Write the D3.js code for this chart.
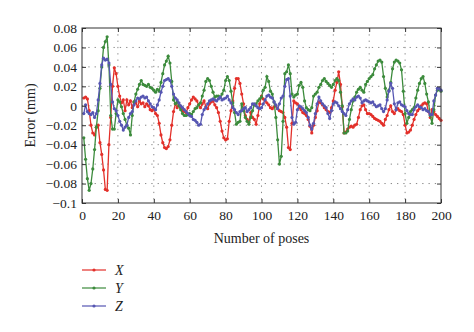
<!DOCTYPE html>
<html>
<head>
<meta charset="utf-8">
<script src="https://cdn.jsdelivr.net/npm/d3@7"></script>
<style>
  body { margin: 0; background: #fff; }
  svg text { font-family: "Liberation Serif", "DejaVu Serif", serif; fill: #222; }
</style>
</head>
<body>
<svg id="chart" width="474" height="332"></svg>
<script>
// Pose error per axis (mm), poses 1..200
const seriesNames = ["X", "Y", "Z"];
const seriesColors = ["#e3302a", "#3c8b3c", "#5656b2"];

const errX = [
  0.008, 0.009, 0.007, -0.005, -0.02, -0.028, -0.03, -0.022, -0.02, -0.038,
  -0.05, -0.066, -0.086, -0.087, -0.04, -0.012, 0.02, 0.039, 0.033, 0.02,
  0.01, 0.003, 0.006, -0.005, 0.006, 0.001, 0.005, -0.002, 0.004, 0.003,
  -0.001, 0.005, 0.002, 0.003, -0.001, 0.002, 0.0, -0.004, -0.005, -0.003,
  -0.008, -0.01, -0.018, -0.03, -0.038, -0.043, -0.044, -0.042, -0.035, -0.02,
  -0.006, 0.002, -0.002, 0.001, -0.002, -0.005, -0.006, -0.007, -0.002, 0.002,
  0.006, 0.009, 0.007, 0.005, 0.001, -0.002, 0.002, 0.005, -0.001, -0.003,
  0.002, 0.004, 0.005, 0.001, -0.002, -0.007, -0.016, -0.026, -0.033, -0.035,
  -0.034, -0.016, -0.005, 0.005, 0.018, 0.028, 0.028, 0.023, 0.012, 0.002,
  -0.01, -0.014, -0.017, -0.007, -0.012, -0.014, -0.019, -0.01, 0.002, 0.01,
  0.007, 0.005, 0.003, 0.001, -0.002, -0.003, -0.001, 0.0, -0.003, -0.005,
  -0.006, -0.007, -0.012, -0.022, -0.043, -0.045, -0.018, 0.005, 0.003, 0.002,
  -0.002, -0.004, -0.007, -0.008, -0.01, -0.014, -0.021, -0.028, -0.02, -0.012,
  -0.005, 0.004, 0.003, 0.001, -0.002, -0.004, -0.006, -0.007, -0.002, 0.005,
  0.016, 0.024, 0.035, 0.022, -0.001, -0.028, -0.027, -0.024, -0.022, -0.021,
  -0.022, -0.02, -0.019, -0.012, -0.004, 0.0, 0.001, -0.004, -0.008, -0.008,
  -0.009, -0.011, -0.013, -0.014, -0.015, -0.016, -0.018, -0.02, -0.014, -0.01,
  -0.004, 0.0, -0.006, -0.008, -0.004, -0.003, -0.005, -0.006, -0.009, -0.02,
  -0.028, -0.027, -0.025, -0.02, -0.014, -0.009, -0.005, -0.003, 0.0, 0.002,
  0.003, 0.002, -0.006, -0.012, -0.004, -0.006, -0.009, -0.011, -0.013, -0.015
];

const errY = [
  -0.033, -0.055, -0.075, -0.087, -0.08, -0.065, -0.045, -0.022, -0.005, 0.018,
  0.04, 0.06, 0.066, 0.071, 0.042, -0.01, -0.024, -0.024, -0.008, 0.006,
  0.004, -0.001, -0.008, -0.014, -0.02, -0.023, -0.03, -0.01, 0.004, 0.012,
  0.017, 0.022, 0.026, 0.022, 0.021, 0.02, 0.022, 0.019, 0.018, 0.016,
  0.014, 0.017, 0.015, 0.024, 0.033, 0.042, 0.046, 0.051, 0.044, 0.025,
  0.006, 0.002, 0.004, 0.0, -0.004, -0.008, -0.01, -0.01, -0.009, -0.008,
  -0.009, -0.006, -0.003, -0.002, 0.001, 0.003, 0.01, 0.016, 0.025, 0.028,
  0.026, 0.02, 0.014, 0.009, 0.01, 0.01, 0.009, 0.012, 0.016, 0.026,
  0.03, 0.026, 0.015, 0.003, -0.007, -0.019, -0.017, -0.016, 0.002, -0.005,
  -0.012, -0.016, -0.019, -0.012, -0.005, 0.001, 0.002, 0.005, 0.007, 0.009,
  0.016, 0.019, 0.03, 0.025, 0.015, 0.012, 0.004, -0.012, -0.035, -0.06,
  -0.052, -0.016, 0.033, 0.035, 0.042, 0.033, 0.012, 0.009, 0.011, 0.012,
  0.021, 0.024, 0.019, 0.005, -0.002, -0.004, -0.005, -0.002, 0.01, 0.012,
  0.014, 0.019, 0.022, 0.026, 0.028, 0.025, 0.023, 0.021, 0.019, 0.022,
  0.026, 0.028, 0.026, 0.014, 0.0, -0.028, -0.028, -0.026, -0.014, -0.004,
  0.005, 0.009, 0.014, 0.017, 0.019, 0.016, 0.014, 0.022, 0.025, 0.028,
  0.03, 0.032, 0.038, 0.042, 0.046, 0.047, 0.045, 0.03, 0.018, 0.009,
  0.016, 0.024, 0.038, 0.045, 0.047, 0.046, 0.044, 0.037, 0.015, -0.008,
  -0.018, -0.012, -0.006, -0.004, -0.002, 0.008, 0.016, 0.023, 0.028, 0.03,
  0.023, 0.012, 0.004, -0.01, -0.018, -0.004, 0.011, 0.016, 0.017, 0.015
];

const errZ = [
  -0.008, 0.001, -0.006, -0.008, -0.009, -0.007, -0.012, -0.008, 0.006, 0.023,
  0.042, 0.049, 0.047, 0.048, 0.044, 0.022, 0.004, -0.003, -0.005, -0.01,
  -0.016, -0.02, -0.025, -0.022, -0.02, -0.012, -0.008, -0.006, 0.001, 0.005,
  0.008, 0.007, 0.009, 0.01, 0.008, 0.009, 0.005, 0.002, -0.001, -0.002,
  -0.004, 0.001, 0.006, 0.014, 0.02, 0.026, 0.027, 0.028, 0.026, 0.02,
  0.012, 0.008, 0.006, 0.003, 0.0, -0.002, -0.004, -0.006, -0.008, -0.01,
  -0.011, -0.014, -0.015, -0.017, -0.02, -0.019, -0.009, -0.004, -0.002, 0.002,
  0.005, 0.006, 0.007, 0.006, 0.005, 0.007, 0.009, 0.006, 0.007, 0.008,
  0.01, 0.006, 0.003, -0.002, -0.004, -0.007, -0.009, -0.006, -0.005, -0.003,
  -0.002, -0.006, -0.004, -0.002, 0.002, 0.002, 0.0, -0.002, -0.003, -0.002,
  0.002, 0.006, 0.01, 0.011, 0.009, 0.008, 0.004, 0.001, -0.003, 0.002,
  0.008, 0.01, 0.02, 0.027, 0.028, 0.01, -0.012, -0.019, -0.017, -0.004,
  0.0, -0.001, -0.003, -0.005, -0.007, -0.012, -0.02, -0.024, -0.018, -0.008,
  0.002, 0.009, 0.005, 0.002, 0.0, -0.002, -0.008, -0.013, -0.005, 0.002,
  0.004, 0.003, 0.0, -0.003, -0.006, -0.008, -0.01, -0.004, 0.002, 0.005,
  0.007, 0.006, 0.009, 0.01, 0.008, 0.003, 0.005, 0.006, 0.005, 0.004,
  0.003, 0.004, 0.001, -0.001, 0.0, 0.001, -0.003, -0.006, -0.003, 0.006,
  0.015, 0.023, 0.018, 0.002, -0.004, 0.003, 0.004, 0.001, 0.0, -0.001,
  -0.005, -0.008, -0.009, -0.009, -0.004, -0.001, 0.001, -0.001, -0.002, -0.004,
  -0.003, -0.005, -0.006, -0.009, -0.009, 0.005, 0.011, 0.018, 0.018, 0.016
];

const xTicks = [0, 20, 40, 60, 80, 100, 120, 140, 160, 180, 200];
const yTicks = [-0.1, -0.08, -0.06, -0.04, -0.02, 0, 0.02, 0.04, 0.06, 0.08];
const xTitle = "Number of poses";
const yTitle = "Error (mm)";

const svg = d3.select("#chart");
const plot = { left: 82, right: 441, top: 28, bottom: 203 };

const x = d3.scaleLinear().domain([0, 200]).range([plot.left, plot.right]);
const y = d3.scaleLinear().domain([-0.1, 0.08]).range([plot.bottom, plot.top]);

const fmtY = d => d === 0 ? "0" : d3.format("")(+d.toFixed(2));

// dotted grid
const grid = svg.append("g").attr("stroke", "#888").attr("stroke-width", 1)
  .attr("stroke-dasharray", "1.3,5");
grid.selectAll("line.v").data(xTicks.slice(1, -1)).join("line")
  .attr("x1", d => x(d)).attr("x2", d => x(d))
  .attr("y1", plot.top).attr("y2", plot.bottom);
grid.selectAll("line.h").data(yTicks.slice(1, -1)).join("line")
  .attr("x1", plot.left).attr("x2", plot.right)
  .attr("y1", d => y(d)).attr("y2", d => y(d));

// series
const seriesData = [errX, errY, errZ];
const line = d3.line().x((d, i) => x(i + 1)).y(d => y(d));
seriesData.forEach((vals, k) => {
  const g = svg.append("g");
  g.append("path").attr("d", line(vals)).attr("fill", "none")
    .attr("stroke", seriesColors[k]).attr("stroke-width", 1.3);
  g.selectAll("circle").data(vals).join("circle")
    .attr("cx", (d, i) => x(i + 1)).attr("cy", d => y(d))
    .attr("r", 1.6).attr("fill", seriesColors[k]);
});

// axes with inward ticks on all four sides
const styleAxis = g => {
  g.select(".domain").remove();
  g.selectAll(".tick line").attr("stroke", "#333");
  g.selectAll("text").style("font-size", "13.5px")
    .style("font-family", "'Liberation Serif', serif").attr("fill", "#222");
};
svg.append("g").attr("transform", `translate(0,${plot.bottom})`)
  .call(d3.axisBottom(x).tickValues(xTicks).tickSizeInner(-4).tickSizeOuter(0).tickPadding(7))
  .call(styleAxis);
svg.append("g").attr("transform", `translate(${plot.left},0)`)
  .call(d3.axisLeft(y).tickValues(yTicks).tickFormat(fmtY).tickSizeInner(-4).tickSizeOuter(0).tickPadding(5))
  .call(styleAxis);
svg.append("g").attr("transform", `translate(0,${plot.top})`)
  .call(d3.axisTop(x).tickValues(xTicks).tickFormat("").tickSizeInner(-4).tickSizeOuter(0))
  .call(styleAxis);
svg.append("g").attr("transform", `translate(${plot.right},0)`)
  .call(d3.axisRight(y).tickValues(yTicks).tickFormat("").tickSizeInner(-4).tickSizeOuter(0))
  .call(styleAxis);

// frame
svg.append("rect").attr("x", plot.left).attr("y", plot.top)
  .attr("width", plot.right - plot.left).attr("height", plot.bottom - plot.top)
  .attr("fill", "none").attr("stroke", "#333").attr("stroke-width", 1);

// axis titles
svg.append("text").attr("x", (plot.left + plot.right) / 2).attr("y", 243)
  .attr("text-anchor", "middle").style("font-size", "14px").text(xTitle);
svg.append("text").attr("transform", `translate(35,${(plot.top + plot.bottom) / 2}) rotate(-90)`)
  .attr("text-anchor", "middle").style("font-size", "14px").text(yTitle);

// legend
const legend = svg.append("g");
seriesNames.forEach((name, k) => {
  const ly = 270 + k * 18;
  legend.append("line").attr("x1", 82).attr("x2", 106).attr("y1", ly).attr("y2", ly)
    .attr("stroke", seriesColors[k]).attr("stroke-width", 1.2);
  legend.append("circle").attr("cx", 94).attr("cy", ly).attr("r", 1.6).attr("fill", seriesColors[k]);
  legend.append("text").attr("x", 115).attr("y", ly + 5)
    .style("font-size", "14px").style("font-style", "italic").text(name);
});
</script>
</body>
</html>
